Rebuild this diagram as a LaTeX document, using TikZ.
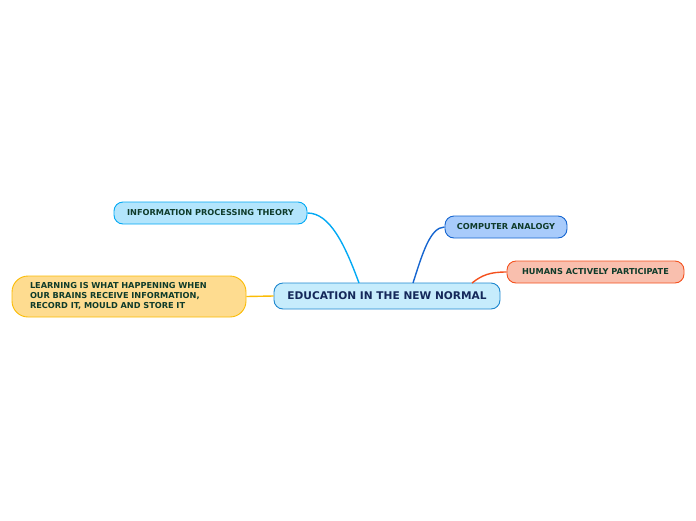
\documentclass[tikz,border=0pt]{standalone}
\usepackage{fontspec}
\setmainfont{DejaVu Sans}
\definecolor{centfill}{HTML}{C6ECFC}
\definecolor{centdraw}{HTML}{1E88CF}
\definecolor{centtext}{HTML}{14285A}
\definecolor{childtext}{HTML}{0F3B2A}
\definecolor{ipfill}{HTML}{B3E5FC}
\definecolor{ipdraw}{HTML}{03A9F4}
\definecolor{cafill}{HTML}{A8CBFB}
\definecolor{cadraw}{HTML}{1565D0}
\definecolor{hufill}{HTML}{F9BFAE}
\definecolor{hudraw}{HTML}{F4511E}
\definecolor{lefill}{HTML}{FEDC90}
\definecolor{ledraw}{HTML}{FBBC05}
\tikzset{
  bubble/.style={rounded corners=9pt, line width=0.9pt, inner sep=0pt, align=center},
  childlabel/.style={bubble, font=\fontsize{8.2}{10}\selectfont\bfseries, text=childtext, minimum height=22pt},
  link/.style={line width=1.4pt}
}
\begin{document}
\begin{tikzpicture}[x=1pt,y=-1pt]
\useasboundingbox (0,0) rectangle (696,520);
\node[bubble, fill=centfill, draw=centdraw, text=centtext, font=\fontsize{10.6}{12}\selectfont\bfseries, minimum width=226pt, minimum height=26pt] (center) at (387,296) {EDUCATION IN THE NEW NORMAL};
\node[childlabel, fill=ipfill, draw=ipdraw, minimum width=193pt] (ipt) at (210.5,213) {INFORMATION PROCESSING THEORY};
\node[childlabel, fill=cafill, draw=cadraw, minimum width=122pt] (ca) at (506,227) {COMPUTER ANALOGY};
\node[childlabel, fill=hufill, draw=hudraw, minimum width=177pt] (hu) at (595.5,272) {HUMANS ACTIVELY PARTICIPATE};
\node[bubble, fill=lefill, draw=ledraw, text=childtext, font=\fontsize{8.2}{10}\selectfont\bfseries, minimum width=234pt, minimum height=41pt, rounded corners=16pt, align=left, text width=198pt] (le) at (129,296.5) {LEARNING IS WHAT HAPPENING WHEN\\OUR BRAINS RECEIVE INFORMATION,\\RECORD IT, MOULD AND STORE IT};
\coordinate (c1) at (359,283);
\coordinate (c2) at (413,283);
\coordinate (c3) at (472,283);
\draw[link, draw=ipdraw] (ipt.east) .. controls (330,213) and (345,245) .. (c1);
\draw[link, draw=cadraw] (ca.west) .. controls (430,227) and (422,255) .. (c2);
\draw[link, draw=hudraw] (hu.west) .. controls (490,272) and (482,275) .. (c3);
\draw[link, draw=ledraw] (le.east) -- (center.west);
\end{tikzpicture}
\end{document}
